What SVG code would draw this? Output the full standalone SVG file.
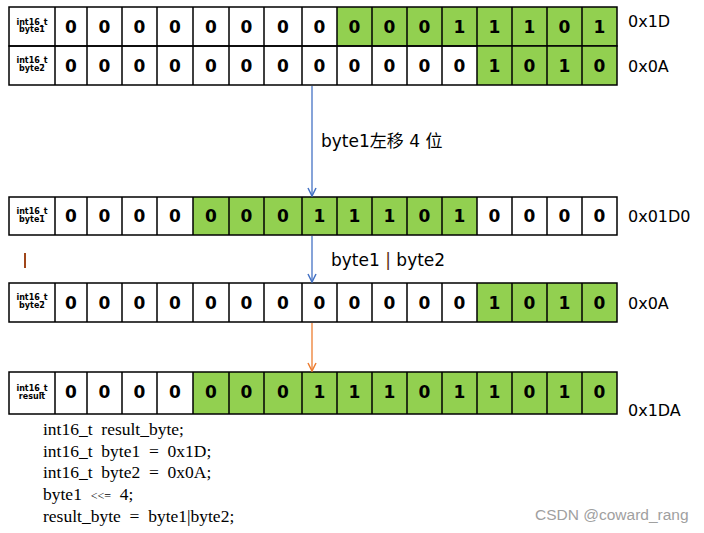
<svg xmlns="http://www.w3.org/2000/svg" width="704" height="533" viewBox="0 0 704 533">
<defs>
<style>
.g{fill:#92d050}
.d{font-family:"DejaVu Sans",sans-serif;font-size:17px;font-weight:bold;text-anchor:middle;fill:#000}
.lab{font-family:"DejaVu Sans",sans-serif;font-size:8px;font-weight:bold;text-anchor:middle;fill:#000}
.hex{font-family:"DejaVu Sans",sans-serif;font-size:16px;fill:#000}
.op{font-family:"DejaVu Sans","Noto Sans CJK SC",sans-serif;font-size:17px;fill:#000}
.code{font-family:"Liberation Serif",serif;font-size:17.5px;fill:#000;white-space:pre}
.wm{font-family:"Liberation Sans",sans-serif;font-size:15.5px;fill:#a0a0a0}
</style>
<marker id="ab" viewBox="0 0 10 10" refX="9" refY="5" markerWidth="10" markerHeight="10" markerUnits="userSpaceOnUse" orient="auto"><path d="M1,1 L9,5 L1,9" fill="none" stroke="#4472c4" stroke-width="1.5"/></marker>
<marker id="ao" viewBox="0 0 10 10" refX="9" refY="5" markerWidth="10" markerHeight="10" markerUnits="userSpaceOnUse" orient="auto"><path d="M1,1 L9,5 L1,9" fill="none" stroke="#ed7d31" stroke-width="1.5"/></marker>
</defs>
<rect width="704" height="533" fill="#fff"/>

<g id="row1">
<rect x="337" y="7" width="280" height="39" class="g"/>
<path d="M9,7H617V46H9Z M55,7V46 M87,7V46 M122,7V46 M157,7V46 M193,7V46 M229,7V46 M264,7V46 M302,7V46 M337,7V46 M372,7V46 M407,7V46 M442,7V46 M477,7V46 M512,7V46 M547,7V46 M582,7V46" fill="none" stroke="#000" stroke-width="1.5"/>
<text class="lab" x="32" y="24.5">int16_t</text><text class="lab" x="32" y="32">byte1</text>
<text class="d" y="33"><tspan x="71">0</tspan><tspan x="104.5">0</tspan><tspan x="139.5">0</tspan><tspan x="175">0</tspan><tspan x="211">0</tspan><tspan x="246.5">0</tspan><tspan x="283">0</tspan><tspan x="319.5">0</tspan><tspan x="354.5">0</tspan><tspan x="389.5">0</tspan><tspan x="424.5">0</tspan><tspan x="459.5">1</tspan><tspan x="494.5">1</tspan><tspan x="529.5">1</tspan><tspan x="564.5">0</tspan><tspan x="599.5">1</tspan></text>
<text class="hex" x="628" y="27">0x1D</text>
</g>

<g id="row2">
<rect x="477" y="46" width="140" height="39" class="g"/>
<path d="M9,46H617V85H9Z M55,46V85 M87,46V85 M122,46V85 M157,46V85 M193,46V85 M229,46V85 M264,46V85 M302,46V85 M337,46V85 M372,46V85 M407,46V85 M442,46V85 M477,46V85 M512,46V85 M547,46V85 M582,46V85" fill="none" stroke="#000" stroke-width="1.5"/>
<text class="lab" x="32" y="63">int16_t</text><text class="lab" x="32" y="71">byte2</text>
<text class="d" y="72"><tspan x="71">0</tspan><tspan x="104.5">0</tspan><tspan x="139.5">0</tspan><tspan x="175">0</tspan><tspan x="211">0</tspan><tspan x="246.5">0</tspan><tspan x="283">0</tspan><tspan x="319.5">0</tspan><tspan x="354.5">0</tspan><tspan x="389.5">0</tspan><tspan x="424.5">0</tspan><tspan x="459.5">0</tspan><tspan x="494.5">1</tspan><tspan x="529.5">0</tspan><tspan x="564.5">1</tspan><tspan x="599.5">0</tspan></text>
<text class="hex" x="628" y="72">0x0A</text>
</g>

<g id="row3">
<rect x="193" y="197" width="284" height="38" class="g"/>
<path d="M9,197H617V235H9Z M55,197V235 M87,197V235 M122,197V235 M157,197V235 M193,197V235 M229,197V235 M264,197V235 M302,197V235 M337,197V235 M372,197V235 M407,197V235 M442,197V235 M477,197V235 M512,197V235 M547,197V235 M582,197V235" fill="none" stroke="#000" stroke-width="1.5"/>
<text class="lab" x="32" y="214">int16_t</text><text class="lab" x="32" y="222">byte1</text>
<text class="d" y="222"><tspan x="71">0</tspan><tspan x="104.5">0</tspan><tspan x="139.5">0</tspan><tspan x="175">0</tspan><tspan x="211">0</tspan><tspan x="246.5">0</tspan><tspan x="283">0</tspan><tspan x="319.5">1</tspan><tspan x="354.5">1</tspan><tspan x="389.5">1</tspan><tspan x="424.5">0</tspan><tspan x="459.5">1</tspan><tspan x="494.5">0</tspan><tspan x="529.5">0</tspan><tspan x="564.5">0</tspan><tspan x="599.5">0</tspan></text>
<text class="hex" x="628" y="222">0x01D0</text>
</g>

<g id="row4">
<rect x="477" y="283" width="140" height="39" class="g"/>
<path d="M9,283H617V322H9Z M55,283V322 M87,283V322 M122,283V322 M157,283V322 M193,283V322 M229,283V322 M264,283V322 M302,283V322 M337,283V322 M372,283V322 M407,283V322 M442,283V322 M477,283V322 M512,283V322 M547,283V322 M582,283V322" fill="none" stroke="#000" stroke-width="1.5"/>
<text class="lab" x="32" y="300">int16_t</text><text class="lab" x="32" y="308">byte2</text>
<text class="d" y="309"><tspan x="71">0</tspan><tspan x="104.5">0</tspan><tspan x="139.5">0</tspan><tspan x="175">0</tspan><tspan x="211">0</tspan><tspan x="246.5">0</tspan><tspan x="283">0</tspan><tspan x="319.5">0</tspan><tspan x="354.5">0</tspan><tspan x="389.5">0</tspan><tspan x="424.5">0</tspan><tspan x="459.5">0</tspan><tspan x="494.5">1</tspan><tspan x="529.5">0</tspan><tspan x="564.5">1</tspan><tspan x="599.5">0</tspan></text>
<text class="hex" x="628" y="309">0x0A</text>
</g>

<g id="row5">
<rect x="193" y="372" width="424" height="42" class="g"/>
<path d="M9,372H617V414H9Z M55,372V414 M87,372V414 M122,372V414 M157,372V414 M193,372V414 M229,372V414 M264,372V414 M302,372V414 M337,372V414 M372,372V414 M407,372V414 M442,372V414 M477,372V414 M512,372V414 M547,372V414 M582,372V414" fill="none" stroke="#000" stroke-width="1.5"/>
<text class="lab" x="32" y="391">int16_t</text><text class="lab" x="32" y="399">result</text>
<text class="d" y="398"><tspan x="71">0</tspan><tspan x="104.5">0</tspan><tspan x="139.5">0</tspan><tspan x="175">0</tspan><tspan x="211">0</tspan><tspan x="246.5">0</tspan><tspan x="283">0</tspan><tspan x="319.5">1</tspan><tspan x="354.5">1</tspan><tspan x="389.5">1</tspan><tspan x="424.5">0</tspan><tspan x="459.5">1</tspan><tspan x="494.5">1</tspan><tspan x="529.5">0</tspan><tspan x="564.5">1</tspan><tspan x="599.5">0</tspan></text>
<text class="hex" x="628" y="416">0x1DA</text>
</g>

<g id="connectors">
<line x1="312" y1="86" x2="312" y2="196" stroke="#4472c4" stroke-width="1.3" marker-end="url(#ab)"/>
<line x1="312" y1="236" x2="312" y2="282" stroke="#4472c4" stroke-width="1.3" marker-end="url(#ab)"/>
<line x1="312" y1="323" x2="312" y2="371" stroke="#ed7d31" stroke-width="1.3" marker-end="url(#ao)"/>
</g>

<g id="labels">
<text class="op" x="321" y="147">byte1左移 4 位</text>
<text class="op" x="331" y="266">byte1 <tspan fill="#5a2a0a">|</tspan> byte2</text>
<line x1="25" y1="253" x2="25" y2="268" stroke="#a0461a" stroke-width="2"/>
</g>

<g id="code">
<text class="code" x="43" y="435" xml:space="preserve">int16_t  result_byte;</text>
<text class="code" x="43" y="457" xml:space="preserve">int16_t  byte1  =  0x1D;</text>
<text class="code" x="43" y="478" xml:space="preserve">int16_t  byte2  =  0x0A;</text>
<text class="code" x="43" y="500" xml:space="preserve">byte1  <tspan font-size="12">&lt;&lt;=</tspan>  4;</text>
<text class="code" x="43" y="522" xml:space="preserve">result_byte  =  byte1|byte2;</text>
</g>

<text class="wm" x="535" y="520">CSDN @coward_rang</text>
</svg>
